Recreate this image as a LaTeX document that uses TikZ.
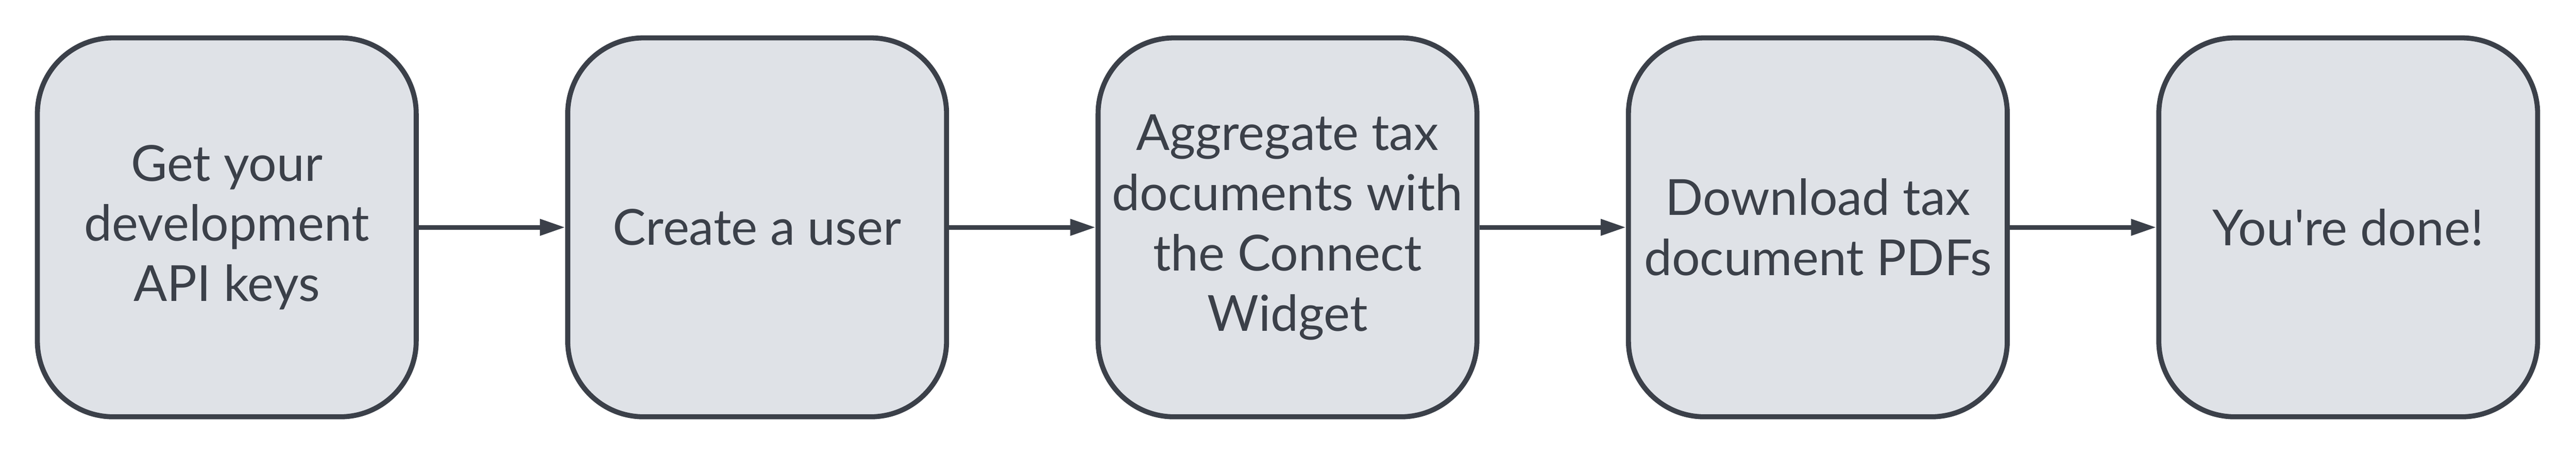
\documentclass[tikz,border=0pt]{standalone}
\usepackage{fontspec}
\setmainfont{Lato}
\usepackage{tikz}
\usetikzlibrary{arrows.meta}
\definecolor{grisito}{RGB}{223,226,231}
\definecolor{oscurito}{RGB}{59,64,73}
\tikzset{>={Triangle[length=0.5cm,width=0.31cm]},
  pasito/.style={draw=oscurito, fill=grisito, line width=0.1cm, rounded corners=1.5cm,
    minimum width=7.5cm, minimum height=7.5cm, inner sep=0pt, align=center,
    text=oscurito, font=\fontsize{28}{33.9}\selectfont},
  flechita/.style={->, draw=oscurito, fill=oscurito, line width=0.09cm}}

\begin{document}
\begin{tikzpicture}[scale=1]
  \useasboundingbox (0,0) rectangle (51,9);
  \node[pasito] (llaves) at (4.49,4.5) {Get your\\development\\API keys};
  \node[pasito] (usuario) at (14.99,4.5) {Create a user};
  \node[pasito] (agregar) at (25.49,4.5) {Aggregate tax\\documents with\\the Connect\\Widget};
  \node[pasito] (descarga) at (35.99,4.5) {Download tax\\document PDFs};
  \node[pasito] (listo) at (46.49,4.5) {You\textquotesingle re done!};

  \draw[flechita] (llaves) -- (usuario);
  \draw[flechita] (usuario) -- (agregar);
  \draw[flechita] (agregar) -- (descarga);
  \draw[flechita] (descarga) -- (listo);
\end{tikzpicture}
\end{document}
